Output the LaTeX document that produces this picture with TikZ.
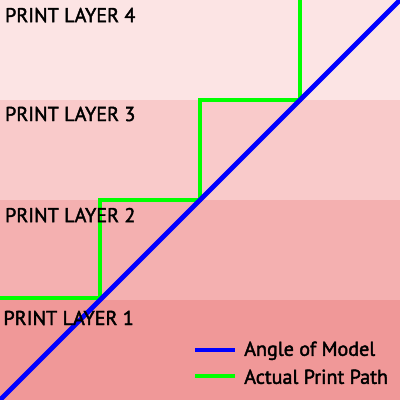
\documentclass[tikz,border=0pt]{standalone}
\usepackage{fontspec}
\setmainfont{PT Sans}
\newfontfamily\labelfont[FakeBold=2]{PT Sans}
\definecolor{layerA}{HTML}{F09898}
\definecolor{layerB}{HTML}{F4B0B0}
\definecolor{layerC}{HTML}{F9CACA}
\definecolor{layerD}{HTML}{FCE4E4}
\definecolor{modelblue}{HTML}{0000FF}
\definecolor{pathgreen}{HTML}{00FF00}
\tikzset{
  layerlabel/.style={anchor=west,inner sep=0pt,font=\labelfont\fontsize{14.3}{17}\selectfont},
  legendlabel/.style={anchor=west,inner sep=0pt,font=\labelfont\fontsize{14.3}{17}\selectfont},
  modelline/.style={modelblue,line width=3.5pt},
  pathline/.style={pathgreen,line width=3.5pt}
}
\begin{document}
\begin{tikzpicture}
    \useasboundingbox (0,0) rectangle (10,10);
    \fill[layerA] (0,0) rectangle (10,2.5);
    \fill[layerB] (0,2.5) rectangle (10,5);
    \fill[layerC] (0,5) rectangle (10,7.5);
    \fill[layerD] (0,7.5) rectangle (10,10);
    \coordinate (s0) at (0,2.55);
    \coordinate (s1) at (2.5,2.55);
    \coordinate (s2) at (2.5,5);
    \coordinate (s3) at (5,5);
    \coordinate (s4) at (5,7.5);
    \coordinate (s5) at (7.5,7.5);
    \coordinate (s6) at (7.5,10.1);
    \coordinate (m0) at (0,0);
    \coordinate (m1) at (10,10);
    \draw[pathline] (s0) -- (s1) -- (s2) -- (s3) -- (s4) -- (s5) -- (s6);
    \draw[modelline] (m0) -- (m1);
    \node[layerlabel] (l4) at (0.12,9.62) {PRINT LAYER 4};
    \node[layerlabel] (l3) at (0.12,7.15) {PRINT LAYER 3};
    \node[layerlabel] (l2) at (0.12,4.62) {PRINT LAYER 2};
    \node[layerlabel] (l1) at (0.08,2.05) {PRINT LAYER 1};
    \coordinate (b0) at (4.875,1.25);
    \coordinate (b1) at (5.875,1.25);
    \coordinate (g0) at (4.875,0.6);
    \coordinate (g1) at (5.875,0.6);
    \draw[modelline] (b0) -- (b1);
    \draw[pathline] (g0) -- (g1);
    \node[legendlabel] (tb) at (6.1,1.23) {Angle of Model};
    \node[legendlabel] (tg) at (6.1,0.58) {Actual Print Path};
  \end{tikzpicture}
\end{document}
